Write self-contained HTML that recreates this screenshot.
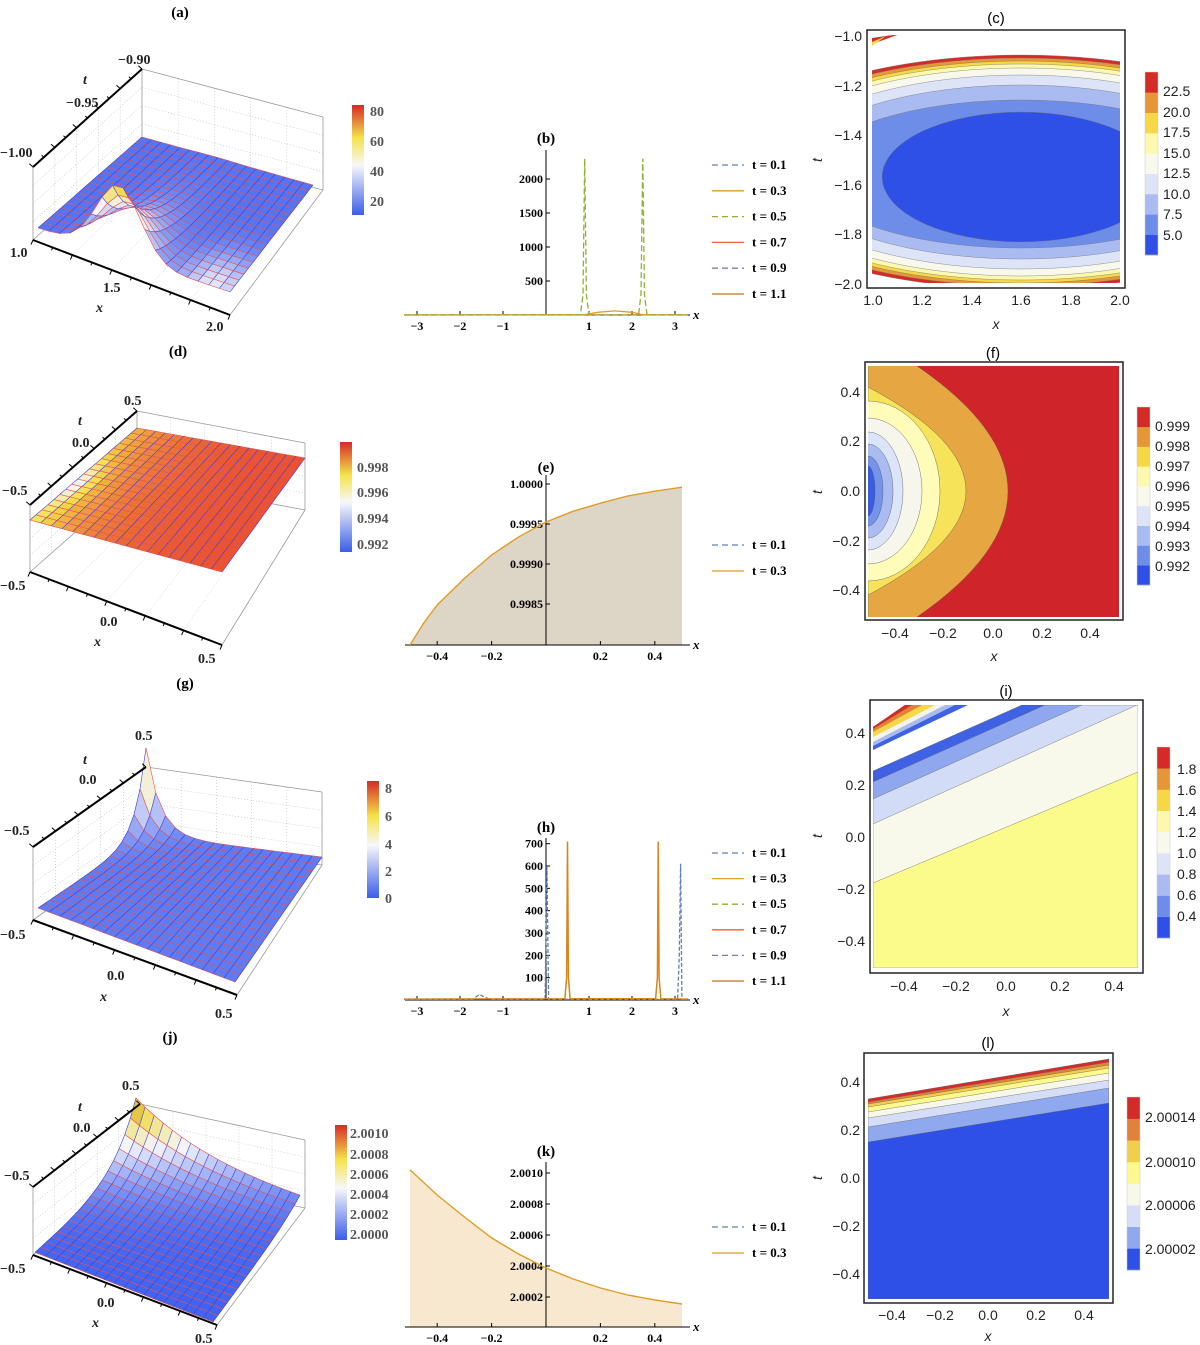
<!DOCTYPE html>
<html><head><meta charset="utf-8">
<style>
html,body{margin:0;padding:0;background:#fff;}
svg{display:block;}
.ser{font-family:"Liberation Serif",serif;font-weight:bold;}
.san{font-family:"Liberation Sans",sans-serif;}
</style></head>
<body>
<svg id="fig" width="1200" height="1345" viewBox="0 0 1200 1345" xmlns="http://www.w3.org/2000/svg">
<defs>
<linearGradient id="cb3d" x1="0" y1="0" x2="0" y2="1">
<stop offset="0" stop-color="#d62a26"/><stop offset="0.3" stop-color="#f5e34a"/><stop offset="0.55" stop-color="#f7f7fb"/><stop offset="1" stop-color="#3b5ee8"/>
</linearGradient>
<clipPath id="clipC"><rect x="872" y="35" width="248" height="248"/></clipPath>
<clipPath id="clipF"><rect x="868" y="366" width="251" height="251"/></clipPath>
<clipPath id="clipI"><rect x="873" y="705" width="265" height="263"/></clipPath>
<clipPath id="clipL"><rect x="868" y="1057" width="241" height="242"/></clipPath>
</defs>

<g id="surfaces"></g>

<!-- panel labels -->
<g class="ser" font-size="15" text-anchor="middle">
<text x="180" y="17">(a)</text>
<text x="546" y="143">(b)</text>
<text x="178" y="356">(d)</text>
<text x="546" y="472">(e)</text>
<text x="185" y="688">(g)</text>
<text x="546" y="832">(h)</text>
<text x="170" y="1042">(j)</text>
<text x="546" y="1156">(k)</text>
</g>
<g class="san" font-size="15" text-anchor="middle">
<text x="996" y="23">(c)</text>
<text x="993" y="358">(f)</text>
<text x="1006" y="696">(i)</text>
<text x="988" y="1048">(l)</text>
</g>

<!-- contour (c) -->
<g>
<g clip-path="url(#clipC)">
<rect x="872" y="35" width="248" height="248" fill="#fff"/>
<g stroke="#777" stroke-width="0.4">
<ellipse cx="1021" cy="172" rx="300" ry="117" fill="#d42a28"/>
<ellipse cx="1021" cy="172" rx="291" ry="114" fill="#e59636"/>
<ellipse cx="1021" cy="172" rx="283" ry="111" fill="#f6d746"/>
<ellipse cx="1021" cy="172" rx="276" ry="108" fill="#fcf8b0"/>
<ellipse cx="1021" cy="172" rx="266" ry="104" fill="#f8f8ec"/>
<ellipse cx="1021" cy="172" rx="250" ry="97" fill="#dde4f8"/>
<ellipse cx="1021" cy="172" rx="232" ry="87" fill="#a9bbf1"/>
<ellipse cx="1021" cy="174" rx="210" ry="74" fill="#6e8de9"/>
<ellipse cx="1021" cy="177" rx="139" ry="65" fill="#2f50e6"/>
</g>
<polygon points="872,38 900,34 872,44" fill="#d42a28"/>
<polygon points="872,42 886,36 872,46" fill="#f6d746"/>
</g>
<rect x="867" y="30" width="258" height="258" fill="none" stroke="#222" stroke-width="1.5"/>
<g class="san" font-size="14" fill="#222" text-anchor="end">
<text x="862" y="41">−1.0</text><text x="862" y="91">−1.2</text><text x="862" y="140">−1.4</text><text x="862" y="190">−1.6</text><text x="862" y="239">−1.8</text><text x="862" y="289">−2.0</text>
</g>
<g class="san" font-size="14" fill="#222" text-anchor="middle">
<text x="873" y="305">1.0</text><text x="922" y="305">1.2</text><text x="972" y="305">1.4</text><text x="1021" y="305">1.6</text><text x="1071" y="305">1.8</text><text x="1120" y="305">2.0</text>
<text x="996" y="329" font-style="italic">x</text>
<text x="0" y="0" font-style="italic" transform="translate(822,160) rotate(-90)">t</text>
</g>
<g id="cbC"></g>
<g class="san" font-size="14" fill="#222">
<text x="1163" y="96">22.5</text><text x="1163" y="117">20.0</text><text x="1163" y="137">17.5</text><text x="1163" y="158">15.0</text><text x="1163" y="178">12.5</text><text x="1163" y="199">10.0</text><text x="1163" y="219">7.5</text><text x="1163" y="240">5.0</text>
</g>
</g>

<!-- contour (f) -->
<g>
<g clip-path="url(#clipF)">
<rect x="868" y="366" width="251" height="251" fill="#d0242b"/>
<g stroke="#555" stroke-width="0.4">
<path d="M868,360 L917,360 L917,366 Q1099,491 917,617 L917,625 L868,625 Z" fill="#e6a642"/>
<path d="M868,387 Q1064,491 868,595 Z" fill="#f6e35a"/>
<ellipse cx="868" cy="491" rx="72" ry="90" fill="#fefcb8"/>
<ellipse cx="868" cy="491" rx="54" ry="73" fill="#f6f6ec"/>
<ellipse cx="868" cy="491" rx="35" ry="59" fill="#dce4f7"/>
<ellipse cx="868" cy="491" rx="25" ry="47" fill="#a9bbf1"/>
<ellipse cx="868" cy="491" rx="15" ry="35" fill="#7593ea"/>
<ellipse cx="868" cy="491" rx="7" ry="25" fill="#3a5ce5"/>
</g>
</g>
<rect x="865" y="362" width="258" height="258" fill="none" stroke="#222" stroke-width="1.5"/>
<g class="san" font-size="14" fill="#222" text-anchor="end">
<text x="860" y="397">0.4</text><text x="860" y="446">0.2</text><text x="860" y="496">0.0</text><text x="860" y="546">−0.2</text><text x="860" y="595">−0.4</text>
</g>
<g class="san" font-size="14" fill="#222" text-anchor="middle">
<text x="895" y="638">−0.4</text><text x="943" y="638">−0.2</text><text x="993" y="638">0.0</text><text x="1042" y="638">0.2</text><text x="1090" y="638">0.4</text>
<text x="994" y="661" font-style="italic">x</text>
<text x="0" y="0" font-style="italic" transform="translate(822,492) rotate(-90)">t</text>
</g>
<g id="cbF"></g>
<g class="san" font-size="14" fill="#222">
<text x="1155" y="431">0.999</text><text x="1155" y="451">0.998</text><text x="1155" y="471">0.997</text><text x="1155" y="491">0.996</text><text x="1155" y="511">0.995</text><text x="1155" y="531">0.994</text><text x="1155" y="551">0.993</text><text x="1155" y="571">0.992</text>
</g>
</g>

<!-- contour (i) -->
<g>
<g clip-path="url(#clipI)" stroke="#666" stroke-width="0.4">
<rect x="873" y="705" width="265" height="263" fill="#fff" stroke="none"/>
<polygon points="873,771 1022,705 1138,705 1138,968 873,968" fill="#3f62e4"/>
<polygon points="873,782 1045,705 1138,705 1138,968 873,968" fill="#8ea7ee"/>
<polygon points="873,799 1082,705 1138,705 1138,968 873,968" fill="#d3dcf6"/>
<polygon points="873,824 1137,705 1138,705 1138,968 873,968" fill="#f8f9ea"/>
<polygon points="873,883 1138,772 1138,968 873,968" fill="#fbfb8c"/>
<polygon points="873,727 905,705 968,705 873,750" fill="#3f62e4" stroke="none"/>
<polygon points="873,727 905,705 955,705 873,746" fill="#a9bbf1" stroke="none"/>
<polygon points="873,727 905,705 945,705 873,742" fill="#f4f4ec" stroke="none"/>
<polygon points="873,727 905,705 935,705 873,737" fill="#f6d746" stroke="none"/>
<polygon points="873,727 905,705 922,705 873,732" fill="#e0823a" stroke="none"/>
<polygon points="873,727 905,705 912,705 873,729" fill="#d32a2a" stroke="none"/>
</g>
<rect x="870" y="700" width="273" height="273" fill="none" stroke="#222" stroke-width="1.5"/>
<g class="san" font-size="14" fill="#222" text-anchor="end">
<text x="865" y="738">0.4</text><text x="865" y="790">0.2</text><text x="865" y="842">0.0</text><text x="865" y="894">−0.2</text><text x="865" y="946">−0.4</text>
</g>
<g class="san" font-size="14" fill="#222" text-anchor="middle">
<text x="904" y="991">−0.4</text><text x="956" y="991">−0.2</text><text x="1006" y="991">0.0</text><text x="1060" y="991">0.2</text><text x="1114" y="991">0.4</text>
<text x="1006" y="1016" font-style="italic">x</text>
<text x="0" y="0" font-style="italic" transform="translate(822,836) rotate(-90)">t</text>
</g>
<g id="cbI"></g>
<g class="san" font-size="14" fill="#222">
<text x="1177" y="774">1.8</text><text x="1177" y="795">1.6</text><text x="1177" y="816">1.4</text><text x="1177" y="837">1.2</text><text x="1177" y="858">1.0</text><text x="1177" y="879">0.8</text><text x="1177" y="900">0.6</text><text x="1177" y="921">0.4</text>
</g>
</g>

<!-- contour (l) -->
<g>
<g clip-path="url(#clipL)" stroke="#666" stroke-width="0.4">
<rect x="868" y="1057" width="241" height="242" fill="#fff" stroke="none"/>
<polygon points="868,1099 1109,1059 1109,1299 868,1299" fill="#d32a2a"/>
<polygon points="868,1102 1109,1062 1109,1299 868,1299" fill="#e0823a"/>
<polygon points="868,1104 1109,1065 1109,1299 868,1299" fill="#f2cf4a"/>
<polygon points="868,1107 1109,1068 1109,1299 868,1299" fill="#fdf98e"/>
<polygon points="868,1112 1109,1073 1109,1299 868,1299" fill="#f7f8ea"/>
<polygon points="868,1118 1109,1080 1109,1299 868,1299" fill="#d6def7"/>
<polygon points="868,1127 1109,1088 1109,1299 868,1299" fill="#8fa8ee"/>
<polygon points="868,1142 1109,1103 1109,1299 868,1299" fill="#2f50e6"/>
</g>
<rect x="864" y="1053" width="249" height="250" fill="none" stroke="#222" stroke-width="1.5"/>
<g class="san" font-size="14" fill="#222" text-anchor="end">
<text x="860" y="1087">0.4</text><text x="860" y="1135">0.2</text><text x="860" y="1183">0.0</text><text x="860" y="1231">−0.2</text><text x="860" y="1279">−0.4</text>
</g>
<g class="san" font-size="14" fill="#222" text-anchor="middle">
<text x="892" y="1320">−0.4</text><text x="940" y="1320">−0.2</text><text x="988" y="1320">0.0</text><text x="1036" y="1320">0.2</text><text x="1084" y="1320">0.4</text>
<text x="988" y="1341" font-style="italic">x</text>
<text x="0" y="0" font-style="italic" transform="translate(822,1178) rotate(-90)">t</text>
</g>
<g id="cbL"></g>
<g class="san" font-size="14" fill="#222">
<text x="1145" y="1122">2.00014</text><text x="1145" y="1167">2.00010</text><text x="1145" y="1210">2.00006</text><text x="1145" y="1254">2.00002</text>
</g>
</g>

<!-- 3D colorbars -->
<g>
<rect x="352" y="105" width="12" height="110" fill="url(#cb3d)"/>
<rect x="340" y="442" width="12" height="110" fill="url(#cb3d)"/>
<rect x="367" y="781" width="12" height="117" fill="url(#cb3d)"/>
<rect x="335" y="1125" width="12" height="115" fill="url(#cb3d)"/>
<g class="ser" font-size="14" fill="#555">
<text x="370" y="116">80</text><text x="370" y="146">60</text><text x="370" y="176">40</text><text x="370" y="206">20</text>
<text x="357" y="472">0.998</text><text x="357" y="497">0.996</text><text x="357" y="523">0.994</text><text x="357" y="549">0.992</text>
<text x="385" y="793">8</text><text x="385" y="821">6</text><text x="385" y="849">4</text><text x="385" y="876">2</text><text x="385" y="903">0</text>
<text x="350" y="1138">2.0010</text><text x="350" y="1159">2.0008</text><text x="350" y="1179">2.0006</text><text x="350" y="1199">2.0004</text><text x="350" y="1219">2.0002</text><text x="350" y="1239">2.0000</text>
</g>
</g>

<!-- 3D tick labels -->
<g class="ser" font-size="14" fill="#222">
<text x="118" y="64">−0.90</text><text x="83" y="84" font-style="italic">t</text><text x="66" y="107">−0.95</text><text x="0" y="157">−1.00</text>
<text x="10" y="257">1.0</text><text x="103" y="292">1.5</text><text x="96" y="312" font-style="italic">x</text><text x="206" y="331">2.0</text>

<text x="124" y="405">0.5</text><text x="78" y="425" font-style="italic">t</text><text x="72" y="447">0.0</text><text x="2" y="495">−0.5</text>
<text x="0" y="590">−0.5</text><text x="100" y="626">0.0</text><text x="94" y="646" font-style="italic">x</text><text x="198" y="663">0.5</text>

<text x="135" y="740">0.5</text><text x="83" y="764" font-style="italic">t</text><text x="79" y="784">0.0</text><text x="4" y="835">−0.5</text>
<text x="0" y="939">−0.5</text><text x="107" y="980">0.0</text><text x="100" y="1001" font-style="italic">x</text><text x="215" y="1018">0.5</text>

<text x="122" y="1090">0.5</text><text x="78" y="1111" font-style="italic">t</text><text x="73" y="1132">0.0</text><text x="4" y="1180">−0.5</text>
<text x="0" y="1273">−0.5</text><text x="97" y="1307">0.0</text><text x="92" y="1327" font-style="italic">x</text><text x="195" y="1343">0.5</text>
</g>

<g id="lines"></g>
</svg>

<script>
const NS='http://www.w3.org/2000/svg';
// ---------- line chart data ----------
const legendLabels6=['t = 0.1','t = 0.3','t = 0.5','t = 0.7','t = 0.9','t = 1.1'];
const legendLabels2=['t = 0.1','t = 0.3'];
const wideXTicks=[-3,-2,-1,1,2,3];
const bYTicks=[500,1000,1500,2000];
const hYTicks=[100,200,300,400,500,600,700];
const smallXTicks=[-0.4,-0.2,0.2,0.4];
const eYTicks=[0.9985,0.9990,0.9995,1.0000];
const kYTicks=[2.0002,2.0004,2.0006,2.0008,2.0010];
// (b)
const bGreenX=[-3.3,0.8,0.86,0.9,0.94,1.0,2.15,2.21,2.25,2.29,2.35,3.3];
const bGreenY=[0,0,300,2300,300,0,0,300,2300,300,0,0];
const bOrangeX=[-3.3,0.9,1.2,1.6,2.0,2.25,3.3];
const bOrangeY=[0,5,40,60,40,5,0];
const bFlatX=[-3.3,3.3];
const bFlatY=[3,3];
// (h)
const hOrangeX=[-3.3,0.44,0.48,0.5,0.52,0.56,2.55,2.59,2.61,2.63,2.67,3.3];
const hOrangeY=[4,6,100,710,100,6,6,100,710,100,6,4];
const hBlueX=[-3.3,-1.7,-1.55,-1.45,-1.3,-0.02,0.02,0.06,3.06,3.1,3.13,3.16,3.3];
const hBlueY=[3,3,25,15,3,3,600,3,3,200,610,3,3];
// (e)
const eX=[-0.5,-0.45,-0.4,-0.3,-0.2,-0.1,0,0.1,0.2,0.3,0.4,0.5];
const eY=[0.997988,0.99826,0.998488,0.99882,0.999112,0.99934,0.999525,0.99966,0.99976,0.99985,0.99991,0.99996];
// (k)
const kX=[-0.5,-0.4,-0.3,-0.2,-0.1,0,0.1,0.2,0.3,0.4,0.5];
const kY=[2.00102,2.000858,2.000716,2.000581,2.000477,2.000387,2.000316,2.000258,2.000213,2.000181,2.000155];

const legendColors=['#5e81b5','#e19c24','#8fb032','#eb6235','#8778b3','#c56e1a'];
const legendDash=['6,4','','6,4','','6,4',''];

function mk(tag,attrs,parent){const e=document.createElementNS(NS,tag);for(const k in attrs)e.setAttribute(k,attrs[k]);parent.appendChild(e);return e;}
function txt(x,y,s,attrs,parent){const e=mk('text',Object.assign({x:x,y:y},attrs),parent);e.textContent=s;return e;}
const linesG=document.getElementById('lines');

function axes(g,sx,sy,yAxisTop,xTicks,yTicks,fmtX,fmtY,axisY){
  const xa=mk('line',{x1:405,y1:axisY,x2:690,y2:axisY,stroke:'#000','stroke-width':1},g);
  
  
  const ya=mk('line',{x1:546,y1:yAxisTop,x2:546,y2:axisY,stroke:'#000','stroke-width':1},g);
  
  
  xTicks.forEach(v=>{mk('line',{x1:sx(v),y1:axisY,x2:sx(v),y2:axisY-4,stroke:'#000'},g);
    const t=txt(sx(v),axisY+15,fmtX(v),{class:'ser','font-size':12,'text-anchor':'middle'},g);
    
    });
  yTicks.forEach(v=>{mk('line',{x1:546,y1:sy(v),x2:550,y2:sy(v),stroke:'#000'},g);
    const t=txt(543,sy(v)+4,fmtY(v),{class:'ser','font-size':12,'text-anchor':'end'},g);
    
    });
  txt(693,axisY+4,'x',{class:'ser','font-size':13,'font-style':'italic'},g);
}
function series(g,X,Y,sx,sy,color,dash,w){
  const d=X.map((x,i)=>(i?'L':'M')+sx(x).toFixed(1)+','+sy(Y[i]).toFixed(1)).join('');
  const p=mk('path',{d:d,fill:'none',stroke:color,'stroke-width':w||1.3},g);
  if(dash)p.setAttribute('stroke-dasharray',dash);
  
  
  return p;
}
function legend(g,labels,y0,step){
  labels.forEach((s,i)=>{const y=y0+i*step;
    const l=mk('line',{x1:712,y1:y,x2:744,y2:y,stroke:legendColors[i],'stroke-width':1.3},g);
    if(legendDash[i])l.setAttribute('stroke-dasharray',legendDash[i]);
    const t=txt(752,y+4,s,{class:'ser','font-size':13},g);
    
    });
}
const fmtInt=v=>(v<0?'−':'')+Math.abs(v);
const fmt1=v=>(v<0?'−':'')+Math.abs(v).toFixed(1);

// (b)
(function(){
  const g=mk('g',{},linesG);
  
  
  const sx=v=>546+v*43, sy=v=>315-v*0.068;
  axes(g,sx,sy,150,wideXTicks,bYTicks,fmtInt,v=>''+v,315);
  series(g,bFlatX,bFlatY,sx,sy,'#c56e1a','',1);
  series(g,bOrangeX,bOrangeY,sx,sy,'#e19c24','',1.3);
  series(g,bGreenX,bGreenY,sx,sy,'#8fb032','6,3',1.3);
  legend(g,legendLabels6,165,25.8);
})();
// (h)
(function(){
  const g=mk('g',{},linesG);
  
  
  const sx=v=>546+v*43, sy=v=>1000-v*0.2233;
  axes(g,sx,sy,838,wideXTicks,hYTicks,fmtInt,v=>''+v,1000);
  series(g,hBlueX,hBlueY,sx,sy,'#5e81b5','4,2',1.3);
  series(g,hOrangeX,hOrangeY,sx,sy,'#d9841f','',1.5);
  legend(g,legendLabels6,853,25.6);
})();
// (e)
(function(){
  const g=mk('g',{},linesG);
  
  
  const sx=v=>546+v*272, sy=v=>484+(1-v)/0.0005*40;
  const d='M'+eX.map((x,i)=>sx(x).toFixed(1)+','+sy(eY[i]).toFixed(1)).join('L')+'L'+sx(eX[eX.length-1])+',645L'+sx(eX[0])+',645Z';
  const a=mk('path',{d:d,fill:'#ddd5c6'},g);
  
  
  axes(g,sx,sy,475,smallXTicks,eYTicks,fmt1,v=>v.toFixed(4),645);
  series(g,eX,eY,sx,sy,'#e19c24','',1.4);
  legend(g,legendLabels2,545,26);
})();
// (k)
(function(){
  const g=mk('g',{},linesG);
  
  
  const sx=v=>546+v*272, sy=v=>1328-(v-2)/0.0002*31;
  const d='M'+kX.map((x,i)=>sx(x).toFixed(1)+','+sy(kY[i]).toFixed(1)).join('L')+'L'+sx(kX[kX.length-1])+',1327L'+sx(kX[0])+',1327Z';
  const a=mk('path',{d:d,fill:'#f8e8d0'},g);
  
  
  axes(g,sx,sy,1162,smallXTicks,kYTicks,fmt1,v=>v.toFixed(4),1327);
  series(g,kX,kY,sx,sy,'#e19c24','',1.4);
  legend(g,legendLabels2,1227,26);
})();

// ---------- contour colorbars ----------
const cbColors9=['#2f50e6','#6e8de9','#a9bbf1','#dde4f8','#f8f8ec','#fcf8b0','#f6d746','#e59636','#d42a28'];
const cbColors8=['#2f50e6','#8fa8ee','#d6def7','#f7f8ea','#fdf98e','#f2cf4a','#e0823a','#d32a2a'];
function colorbar(id,x,y0,y1,cols){
  const g=document.getElementById(id);const n=cols.length;const h=(y1-y0)/n;
  cols.forEach((c,i)=>{const r=mk('rect',{x:x,y:y1-(i+1)*h,width:13,height:h+0.3,fill:c},g);
    
    });
  mk('rect',{x:x,y:y0,width:13,height:y1-y0,fill:'none',stroke:'#ccc','stroke-width':0.5},g);
}
colorbar('cbC',1145,72,255,cbColors9);
colorbar('cbF',1137,407,585,cbColors9);
colorbar('cbI',1157,747,938,cbColors9);
colorbar('cbL',1127,1097,1270,cbColors8);

// ---------- 3D surfaces ----------
const sG=document.getElementById('surfaces');
function cmap(c){c=Math.max(0,Math.min(1,c));
  const st=[[0,[52,88,238]],[0.45,[245,245,250]],[0.7,[240,220,80]],[0.85,[200,140,40]],[1,[150,60,20]]];
  for(let i=1;i<st.length;i++){if(c<=st[i][0]){const a=st[i-1],b=st[i];const f=(c-a[0])/(b[0]-a[0]);
    return 'rgb('+a[1].map((v,k)=>Math.round(v+(b[1][k]-v)*f)).join(',')+')';}}
  return 'rgb(150,60,20)';}
function cmapR(c){c=Math.max(0,Math.min(1,c));
  const st=[[0,[59,94,232]],[0.45,[245,245,250]],[0.7,[245,225,70]],[1,[230,50,45]]];
  for(let i=1;i<st.length;i++){if(c<=st[i][0]){const a=st[i-1],b=st[i];const f=(c-a[0])/(b[0]-a[0]);
    return 'rgb('+a[1].map((v,k)=>Math.round(v+(b[1][k]-v)*f)).join(',')+')';}}
  return 'rgb(230,50,45)';}
function lerp(a,b,f){return [a[0]+(b[0]-a[0])*f,a[1]+(b[1]-a[1])*f];}
function draw3d(cfg){
  const g=mk('g',{},sG);
  
  
  const {F0,F1,B0,B1,H}=cfg;const up=p=>[p[0],p[1]-H];
  const L=(a,b,s,w,d)=>{const l=mk('line',{x1:a[0].toFixed(1),y1:a[1].toFixed(1),x2:b[0].toFixed(1),y2:b[1].toFixed(1),stroke:s,'stroke-width':w},g);if(d)l.setAttribute('stroke-dasharray',d);return l;};
  for(let k=1;k<5;k++){const p=lerp(B0,B1,k/5);L(p,up(p),'#bbb',0.6,'1,2');
    const q=lerp(F0,B0,k/5);L(q,up(q),'#bbb',0.6,'1,2');
    const f=lerp(F0,F1,k/5);L(f,lerp(B0,B1,k/5),'#ccc',0.6,'1,2');}
  for(let k=1;k<4;k++){const dy=H*k/4;L([B0[0],B0[1]-dy],[B1[0],B1[1]-dy],'#bbb',0.6,'1,2');L([F0[0],F0[1]-dy],[B0[0],B0[1]-dy],'#bbb',0.6,'1,2');}
  [[B0,B1],[B0,up(B0)],[B1,up(B1)],[up(B0),up(B1)],[F0,up(F0)],[F1,B1],[F0,B0]].forEach(e=>L(e[0],e[1],'#999',0.8));
  const C=cfg.corners;const N=18;const cm=cfg.cm||cmap;
  const P=(u,v)=>{const x=(1-u)*(1-v)*C.FL[0]+u*(1-v)*C.FR[0]+(1-u)*v*C.BL[0]+u*v*C.BR[0];
    const y=(1-u)*(1-v)*C.FL[1]+u*(1-v)*C.FR[1]+(1-u)*v*C.BL[1]+u*v*C.BR[1];return [x,y-cfg.lift(u,v)];};
  for(let j=N-1;j>=0;j--){
    const segs=[];
    for(let i=0;i<N;i++){
      const u0=i/N,u1=(i+1)/N,v0=j/N,v1=(j+1)/N;
      const a=P(u0,v0),b=P(u1,v0),c=P(u1,v1),d=P(u0,v1);
      const col=cm(cfg.color((u0+u1)/2,(v0+v1)/2));
      const pts=[a,b,c,d].map(p=>p[0].toFixed(1)+','+p[1].toFixed(1)).join(' ');
      const q=mk('polygon',{points:pts,fill:col,stroke:col,'stroke-width':0.25},g);
      
      
      segs.push([a,b,c,d,i]);
    }
    segs.forEach(s=>{const [a,b,c,d,i]=s;
      L(d,c,'#ee5050',0.6);L(a,b,'#ee5050',0.6);L(a,d,'#3c3ce0',0.6);
      if(i===N-1)L(b,c,'#3c3ce0',0.6);});
  }
  const axis=(A,B,dir)=>{L(A,B,'#000',2);for(let k=0;k<=10;k++){const p=lerp(A,B,k/10);L(p,[p[0]+dir[0]*(k%2?3:5),p[1]+dir[1]*(k%2?3:5)],'#000',1);}};
  axis(F0,F1,[-0.4,0.92]);axis(up(F0),up(B0),[-0.75,-0.65]);
}
draw3d({name:'surface-a',F0:[33,240],F1:[230,315],B0:[142,142],B1:[323,190],H:73,
  corners:{FL:[38,228],FR:[230,292],BL:[142,137],BR:[313,185]},
  lift:(u,v)=>70*Math.exp(-Math.pow((u-0.42)/0.16,2))*Math.exp(-v/0.22),
  color:(u,v)=>0.08+0.7*Math.exp(-Math.pow((u-0.42)/0.16,2))*Math.exp(-v/0.22)+0.33*Math.exp(-(u-0.9)*(u-0.9)/0.03-v*v/0.08)});
draw3d({name:'surface-d',F0:[30,572],F1:[222,645],B0:[137,478],B1:[305,510],H:67,
  corners:{FL:[30,520],FR:[222,572],BL:[137,428],BR:[305,458]},cm:cmapR,
  lift:(u,v)=>0,
  color:(u,v)=>0.95-0.3*Math.exp(-u/0.25)*(1-0.4*v)-0.45*Math.exp(-u/0.05)*Math.exp(-Math.pow(v-0.4,2)/0.04)});
draw3d({name:'surface-g',F0:[33,920],F1:[237,995],B0:[146,840],B1:[322,865],H:73,
  corners:{FL:[38,908],FR:[235,982],BL:[146,835],BR:[322,857]},
  lift:(u,v)=>87*Math.exp(-u/0.08)*Math.exp(-(1-v)/0.1),
  color:(u,v)=>0.1+0.75*Math.exp(-u/0.08)*Math.exp(-(1-v)/0.1)});
draw3d({name:'surface-j',F0:[33,1255],F1:[217,1325],B0:[140,1172],B1:[305,1208],H:68,
  corners:{FL:[35,1253],FR:[213,1322],BL:[136,1166],BR:[300,1205]},
  lift:(u,v)=>68*Math.exp(-(1-v)/0.22)*Math.exp(-u/0.52),
  color:(u,v)=>0.03+0.85*Math.exp(-(1-v)/0.22)*Math.exp(-u/0.52)});
</script>
</body></html>
